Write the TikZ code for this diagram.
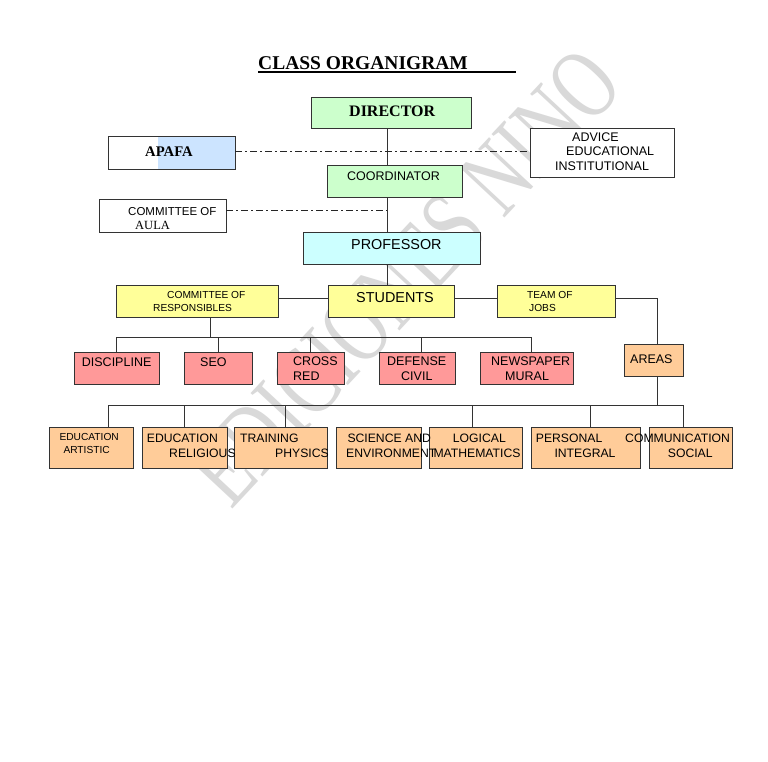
\documentclass[tikz,border=0pt]{standalone}
\usepackage{fontspec}
\setmainfont{Liberation Serif}
\setsansfont{Liberation Sans}
\definecolor{boxgreen}{HTML}{CCFFCC}
\definecolor{boxblue}{HTML}{CCE4FF}
\definecolor{boxcyan}{HTML}{CCFFFF}
\definecolor{boxyellow}{HTML}{FFFF99}
\definecolor{boxred}{HTML}{FF9999}
\definecolor{boxorange}{HTML}{FFCC99}

\begin{document}
\begin{tikzpicture}[
    x=1pt,
    y=-1pt,
    box/.style={draw=black!80, line width=0.75pt, inner sep=0pt, minimum height=32pt},
    link/.style={draw=black!80, line width=0.75pt},
    dashdot/.style={draw=black!85, line width=0.6pt, dash pattern=on 7pt off 3pt on 2pt off 3pt},
    watermark/.style={rotate=47, yscale=1.4, inner sep=0pt, text=black!15, font=\fontsize{72}{72}\selectfont},
    lab/.style={anchor=base west, inner sep=0pt, font=\sffamily\fontsize{12.5}{13}\selectfont},
    labsmall/.style={lab, font=\sffamily\fontsize{10.2}{11}\selectfont},
    labbig/.style={lab, font=\sffamily\fontsize{14.4}{15}\selectfont},
    labbot/.style={lab, font=\sffamily\fontsize{12.2}{13}\selectfont},
    labserif/.style={anchor=base west, inner sep=0pt, font=\bfseries\fontsize{16}{17}\selectfont}
  ]
    \useasboundingbox[fill=white] (0,0) rectangle (768,761);

    % watermark
    \node[watermark] (mark) at (405,277) {EDICIONES NINO};

    % title
    \node[anchor=base west, inner sep=0pt, font=\bfseries\fontsize{19.5}{20}\selectfont] (title) at (258,69) {CLASS ORGANIGRAM};
    \coordinate (ulend) at (516,72);
    \draw[line width=1.1pt] (title.base west |- ulend) -- (ulend);

    % top of the chart
    \node[box, fill=boxgreen, minimum width=160pt, minimum height=31pt] (dir) at (391,112.5) {};
    \node[box, minimum width=127pt, minimum height=33pt,
      path picture={\fill[boxblue] ([xshift=50pt]path picture bounding box.south west) rectangle (path picture bounding box.north east);}] (apafa) at (171.5,152.5) {};
    \node[box, fill=white, minimum width=144pt, minimum height=49pt] (advice) at (602,152.5) {};
    \node[box, fill=boxgreen, minimum width=135pt] (coord) at (394.5,181) {};
    \node[box, fill=white, minimum width=127pt, minimum height=33pt] (aula) at (162.5,215.5) {};
    \node[box, fill=boxcyan, minimum width=177pt] (prof) at (391.5,248) {};

    % students row
    \node[box, fill=boxyellow, minimum width=162pt] (resp) at (197,301) {};
    \node[box, fill=boxyellow, minimum width=126pt] (stud) at (391,301) {};
    \node[box, fill=boxyellow, minimum width=118pt] (team) at (556,301) {};

    % committees
    \node[box, fill=boxred, minimum width=85pt] (disc) at (116.5,368) {};
    \node[box, fill=boxred, minimum width=68pt] (seo) at (218,368) {};
    \node[box, fill=boxred, minimum width=67pt] (cross) at (310.5,368) {};
    \node[box, fill=boxred, minimum width=76pt] (def) at (417,368) {};
    \node[box, fill=boxred, minimum width=93pt] (news) at (526.5,368) {};
    \node[box, fill=boxorange, minimum width=59pt] (areas) at (653.5,360) {};

    % areas
    \node[box, fill=boxorange, minimum width=84pt, minimum height=41pt] (artistic) at (91,447.5) {};
    \node[box, fill=boxorange, minimum width=85pt, minimum height=41pt] (religious) at (184.5,447.5) {};
    \node[box, fill=boxorange, minimum width=93pt, minimum height=41pt] (training) at (280.5,447.5) {};
    \node[box, fill=boxorange, minimum width=85pt, minimum height=41pt] (science) at (378.5,447.5) {};
    \node[box, fill=boxorange, minimum width=93pt, minimum height=41pt] (logical) at (475.5,447.5) {};
    \node[box, fill=boxorange, minimum width=109pt, minimum height=41pt] (personal) at (585.5,447.5) {};
    \node[box, fill=boxorange, minimum width=83pt, minimum height=41pt] (comm) at (690.5,447.5) {};

    % connectors
    \coordinate (spine) at (387,0);
    \draw[link] (dir.south -| spine) -- (coord.north -| spine);
    \draw[link] (coord.south -| spine) -- (prof.north -| spine);
    \draw[link] (prof.south -| spine) -- (stud.north -| spine);
    \draw[dashdot] ([yshift=1.5pt]apafa.east) -- ([yshift=1.5pt]advice.west);
    \draw[dashdot] ([yshift=5.5pt]aula.east) -- ([yshift=5.5pt]aula.east -| spine);

    \draw[link] ([yshift=3pt]resp.east) -- ([yshift=3pt]stud.west);
    \draw[link] ([yshift=3pt]stud.east) -- ([yshift=3pt]team.west);
    \draw[link] ([yshift=3pt]team.east) -| ([xshift=3.5pt]areas.north);

    \coordinate (midbus) at (0,337);
    \draw[link] ([xshift=13pt]resp.south) -- ([xshift=13pt]resp.south |- midbus);
    \draw[link] (disc.north |- midbus) -- ([xshift=5pt]news.north |- midbus);
    \foreach \n/\dx in {disc/0, seo/0, cross/0, def/4, news/5}
      \draw[link] ([xshift=\dx pt]\n.north |- midbus) -- ([xshift=\dx pt]\n.north);

    \coordinate (lowbus) at (0,405);
    \draw[link] ([xshift=3.5pt]areas.south) -- ([xshift=3.5pt]areas.south |- lowbus);
    \draw[link] ([xshift=17pt]artistic.north |- lowbus) -- ([xshift=-7.5pt]comm.north |- lowbus);
    \foreach \n/\dx in {artistic/17, religious/0, training/5, logical/-3, personal/4.5, comm/-7.5}
      \draw[link] ([xshift=\dx pt]\n.north |- lowbus) -- ([xshift=\dx pt]\n.north);

    % texts
    \node[labserif] (dirtxt) at (349,116.7) {DIRECTOR};
    \node[labserif, font=\bfseries\fontsize{14.7}{15}\selectfont] (apafatxt) at (145,156.5) {APAFA};
    \node[lab] (advice1) at (572,141) {ADVICE};
    \node[lab] (advice2) at (566,155.5) {EDUCATIONAL};
    \node[lab] (advice3) at (555,170) {INSTITUTIONAL};
    \node[lab] (coordtxt) at (347,180.7) {COORDINATOR};
    \node[lab, font=\sffamily\fontsize{11.5}{12}\selectfont] (aula1) at (128,215) {COMMITTEE OF};
    \node[lab, font=\rmfamily\fontsize{12.5}{13}\selectfont] (aula2) at (135,229) {AULA};
    \node[labbig] (proftxt) at (351,249) {PROFESSOR};
    \node[labbig] (studtxt) at (356,302) {STUDENTS};
    \node[labsmall] (resp1) at (167,298) {COMMITTEE OF};
    \node[labsmall] (resp2) at (153,311) {RESPONSIBLES};
    \node[labsmall] (team1) at (527,298) {TEAM OF};
    \node[labsmall] (team2) at (529,311) {JOBS};

    \node[lab] (disctxt) at (81.7,366.7) {DISCIPLINE};
    \node[lab] (seotxt) at (200,366.7) {SEO};
    \node[lab] (cross1) at (293,365.5) {CROSS};
    \node[lab] (cross2) at (293,380) {RED};
    \node[lab] (def1) at (387,365.5) {DEFENSE};
    \node[lab] (def2) at (401,380) {CIVIL};
    \node[lab] (news1) at (491,365.5) {NEWSPAPER};
    \node[lab] (news2) at (505,380) {MURAL};
    \node[lab] (areastxt) at (630,363) {AREAS};

    \node[labsmall] (artistic1) at (59.3,440.7) {EDUCATION};
    \node[labsmall] (artistic2) at (63.3,453.3) {ARTISTIC};
    \node[labbot] (religious1) at (146.7,442.5) {EDUCATION};
    \node[labbot] (religious2) at (169,457.5) {RELIGIOUS};
    \node[labbot] (training1) at (240,442.5) {TRAINING};
    \node[labbot] (training2) at (275,457.5) {PHYSICS};
    \node[labbot] (science1) at (347.3,442.5) {SCIENCE AND};
    \node[labbot] (science2) at (346,457.5) {ENVIRONMENT};
    \node[labbot] (logical1) at (452.7,442.5) {LOGICAL};
    \node[labbot] (logical2) at (433.3,457.5) {MATHEMATICS};
    \node[labbot] (personal1) at (535.7,442.5) {PERSONAL};
    \node[labbot] (personal2) at (554.3,457.5) {INTEGRAL};
    \node[labbot] (comm1) at (625,442.5) {COMMUNICATION};
    \node[labbot] (comm2) at (667.7,457.5) {SOCIAL};
  \end{tikzpicture}
\end{document}
